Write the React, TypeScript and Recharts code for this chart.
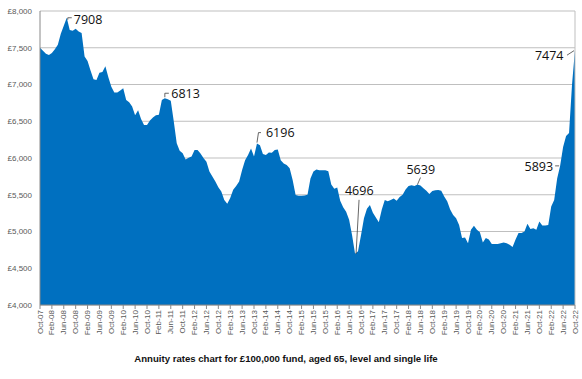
import React from 'react';
import { AreaChart, Area, XAxis, YAxis, CartesianGrid, ReferenceDot, ReferenceLine } from 'recharts';

// monthly annuity income, Oct-07 .. Oct-22
const rates = [
  7500, 7460, 7420, 7400, 7430, 7480, 7540, 7690, 7800, 7908,
  7740, 7730, 7760, 7720, 7700, 7380, 7320, 7190, 7070, 7060,
  7160, 7170, 7250, 7100, 6970, 6890, 6890, 6920, 6950, 6790,
  6760, 6700, 6580, 6650, 6530, 6450, 6450, 6510, 6550, 6580,
  6590, 6790, 6813, 6800, 6780, 6500, 6200, 6100, 6065, 5980,
  6005, 6020, 6110, 6110, 6060, 6000, 5950, 5815, 5747, 5680,
  5603, 5545, 5430, 5377, 5455, 5567, 5620, 5680, 5838, 5970,
  6040, 6130, 6020, 6196, 6175, 6055, 6040, 6075, 6070, 6110,
  6115, 5970, 5925, 5905, 5860, 5700, 5495, 5485, 5485, 5490,
  5500, 5720, 5815, 5845, 5835, 5835, 5835, 5820, 5640, 5580,
  5600, 5420, 5330, 5270, 5160, 4950, 4696, 4730, 4950, 5180,
  5310, 5360, 5255, 5190, 5125, 5300, 5430, 5410, 5430, 5450,
  5420, 5470, 5500, 5570, 5620, 5630, 5620, 5639, 5625, 5590,
  5555, 5510, 5550, 5560, 5565, 5555, 5475, 5410, 5300, 5225,
  5180, 5090, 4910, 4920, 4840, 5023, 5077, 5023, 4990, 4850,
  4910, 4890, 4830, 4830, 4830, 4840, 4850, 4840, 4820, 4790,
  4890, 4980, 4980, 5000, 5105, 5035, 5045, 5025, 5135, 5080,
  5080, 5090, 5340, 5430, 5720, 5893, 6150, 6300, 6340, 7000,
  7474,
];

const monthNames = ['Jan', 'Feb', 'Mar', 'Apr', 'May', 'Jun', 'Jul', 'Aug', 'Sep', 'Oct', 'Nov', 'Dec'];
const months = rates.map((_, i) => {
  const m = 9 + i;
  const yy = 7 + Math.floor(m / 12);
  return `${monthNames[m % 12]}-${String(yy).padStart(2, '0')}`;
});

const yTicks = [4000, 4500, 5000, 5500, 6000, 6500, 7000, 7500, 8000];

// months that get a value call-out
const calloutIdx = [9, 42, 73, 106, 127, 175, 180];

// call-out placement relative to the point
const calloutStyle: Record<number, { dx: number; dy: number; anchor: string; leader: number[][] }> = {
  9: { dx: 7, dy: 6.5, anchor: 'start', leader: [[1, 2], [1, 0], [5, 0]] },
  42: { dx: 6.5, dy: 0, anchor: 'start', leader: [[0, -1], [0, -5], [4, -5]] },
  73: { dx: 9, dy: -6.4, anchor: 'start', leader: [[0, -1], [1.5, -11], [4, -11]] },
  106: { dx: 4.2, dy: -59, anchor: 'middle', leader: [[1, 0], [4, -54]] },
  127: { dx: 3.3, dy: -11, anchor: 'middle', leader: [[0, 0], [3, -7]] },
  175: { dx: -7, dy: 5.5, anchor: 'end', leader: [[-1, 0], [-5, 0]] },
  180: { dx: -11.5, dy: 10.5, anchor: 'end', leader: [[-1, 1], [-8, 5.5]] },
};

const data = months.map((month, i) => ({ month, rate: rates[i] }));

const BLUE = '#0070C0';
const GRID = '#BFBFBF';
const LABEL = '#595959';

const XTick = ({ x, y, payload }: any) => (
  <text
    x={x}
    y={y}
    transform={`rotate(-90 ${x} ${y})`}
    textAnchor='end'
    dominantBaseline='central'
    fontSize={8}
    fontFamily='Liberation Sans, Arial, sans-serif'
    fill={LABEL}>
    {payload.value}
  </text>
);

const callout = (idx: number) => (props: any) => {
  const { cx, cy } = props;
  const s = calloutStyle[idx];
  const pts = s.leader.map(([a, b]) => `${cx + a},${cy + b}`).join(' ');
  return (
    <g>
      <polyline points={pts} fill='none' stroke='#404040' strokeWidth={0.8} />
      <text
        x={cx + s.dx}
        y={cy + s.dy}
        textAnchor={s.anchor as any}
        fontSize={12.5}
        fontFamily='Open Sans, Liberation Sans, sans-serif'
        fill='#111'>
        {rates[idx]}
      </text>
    </g>
  );
};

export default function App() {
  return (
    <div style={{ position: 'absolute', left: 0, top: 0, width: 582, height: 379, background: '#fff' }}>
      <AreaChart width={582} height={379} data={data} margin={{ top: 11, right: 7, left: 0, bottom: 0 }}>
        <CartesianGrid vertical={false} stroke={GRID} />
        <XAxis
          dataKey='month'
          interval={3}
          height={74}
          tick={<XTick />}
          tickSize={4}
          tickMargin={1}
          stroke='#888'
          tickLine={{ stroke: '#888' }}
        />
        <YAxis
          domain={[4000, 8000]}
          ticks={yTicks}
          width={40}
          tickLine={false}
          tickSize={0}
          tickMargin={8}
          stroke='#888'
          tick={{ fontSize: 8, fill: LABEL, fontFamily: 'Liberation Sans, Arial, sans-serif' }}
          tickFormatter={(v: number) => `£${v.toLocaleString('en-GB')}`}
        />
        <ReferenceLine x={months[months.length - 1]} stroke={GRID} />
        <Area
          type='linear'
          dataKey='rate'
          stroke='none'
          fill={BLUE}
          fillOpacity={1}
          isAnimationActive={false}
        />
        {calloutIdx.map((idx) => (
          <ReferenceDot
            key={idx}
            x={months[idx]}
            y={rates[idx]}
            r={0}
            ifOverflow='visible'
            shape={callout(idx)}
          />
        ))}
      </AreaChart>
      <div
        style={{
          position: 'absolute',
          left: 0,
          top: 354,
          width: 572,
          textAlign: 'center',
          fontFamily: 'Liberation Sans, Arial, sans-serif',
          fontWeight: 'bold',
          fontSize: 9.6,
          lineHeight: 1,
          color: '#111',
        }}>
        Annuity rates chart for £100,000 fund, aged 65, level and single life
      </div>
    </div>
  );
}
